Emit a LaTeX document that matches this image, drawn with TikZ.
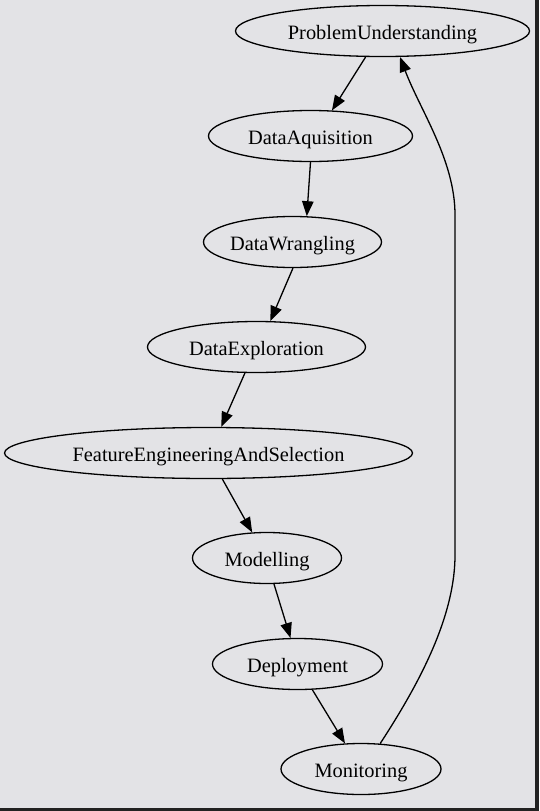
\documentclass[tikz,border=0pt]{standalone}
\usepackage{fontspec}
\setmainfont{Liberation Serif}
\usetikzlibrary{arrows.meta,shapes.geometric}
\definecolor{bgc}{RGB}{227,227,230}
\definecolor{framec}{RGB}{34,34,34}
\begin{document}
\begin{tikzpicture}[x=1pt,y=-1pt,
  stage/.style={ellipse, draw, line width=1.3pt, inner sep=0pt, minimum height=51pt,
    text height=16pt, text depth=0pt,
    font=\fontsize{20.4}{24}\selectfont},
  flow/.style={line width=1.3pt, -{Triangle[length=15pt,width=11.5pt]}}]
\useasboundingbox (0,0) rectangle (539,811);
\fill[bgc] (0,0) rectangle (539,811);
\fill[framec] (535,0) rectangle (539,811);
\fill[framec] (0,808) rectangle (539,811);

\node[stage, minimum width=294pt] (pu) at (382.5,31) {ProblemUnderstanding};
\node[stage, minimum width=204pt] (da) at (310.5,136) {DataAquisition};
\node[stage, minimum width=178pt] (dw) at (292.5,242) {DataWrangling};
\node[stage, minimum width=218pt] (de) at (256.5,347) {DataExploration};
\node[stage, minimum width=408pt] (fe) at (208.5,453) {FeatureEngineeringAndSelection};
\node[stage, minimum width=149pt] (mo) at (267,558) {Modelling};
\node[stage, minimum width=170pt] (dp) at (297.5,664) {Deployment};
\node[stage, minimum width=160pt] (mn) at (361,769) {Monitoring};

\draw[flow] (pu.237) -- (da.50);
\draw[flow] (da.270) -- (dw.61);
\draw[flow] (dw.271) -- (de.62);
\draw[flow] (de.246) -- (fe.64);
\draw[flow] (fe.298) -- (mo.120);
\draw[flow] (mo.285) -- (dp.105);
\draw[flow] (dp.300) -- (mn.122);
\draw[flow] (mn.53) .. controls (415,690) and (455,620) .. (455,555)
  -- (455,215) .. controls (455,160) and (420,110) .. (pu.304);
\end{tikzpicture}
\end{document}
